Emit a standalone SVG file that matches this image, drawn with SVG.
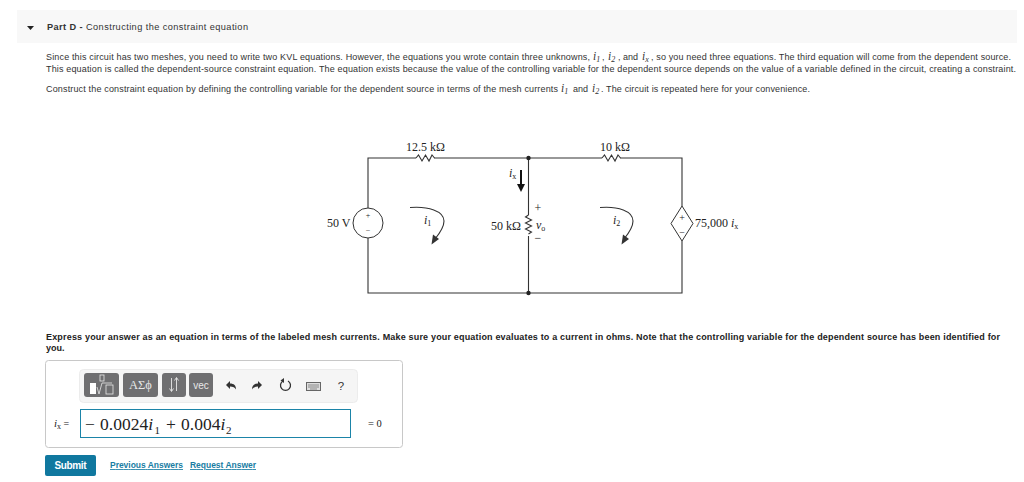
<svg xmlns="http://www.w3.org/2000/svg" width="1024" height="482" viewBox="0 0 1024 482">
<style>
text{font-family:"Liberation Sans",Arial,sans-serif;fill:#333}
.b{font-size:9px}
.bold{font-size:9px;font-weight:700;fill:#222}
.m{font-family:"Liberation Serif","Times New Roman",serif;font-style:italic;font-size:11.500px;fill:#333}
.s{font-family:"Liberation Serif","Times New Roman",serif;font-size:12px;fill:#222}
.si{font-family:"Liberation Serif","Times New Roman",serif;font-style:italic;font-size:12px;fill:#222}
.w{fill:none;stroke:#333;stroke-width:1.100}
.btn{fill:#6f6f71}
.bt{fill:#e8e8e8;font-size:10px}
.dot{fill:#222}
.link{font-size:8.500px;font-weight:700;fill:#1a7da3;text-decoration:underline}
.ans{font-family:"Liberation Serif","Times New Roman",serif;font-size:17.500px;fill:#222}
</style>
<rect width="1024" height="482" fill="#fff"/>
<rect x="17" y="10" width="1000" height="33" fill="#f8f8f8"/>
<path d="M27 26h7l-3.500 4z" fill="#222"/>
<text x="47" y="30" font-size="9.200" fill="#222" textLength="201"><tspan font-weight="700">Part D -</tspan> Constructing the constraint equation</text>
<text class="b" x="46" y="60" textLength="544">Since this circuit has two meshes, you need to write two KVL equations. However, the equations you wrote contain three unknowns,</text>
<text class="m" x="593" y="60">i<tspan font-size="8" dy="1.500">1</tspan></text>
<text class="b" x="602" y="60">,</text>
<text class="m" x="608" y="60">i<tspan font-size="8" dy="1.500">2</tspan></text>
<text class="b" x="618" y="60">, and</text>
<text class="m" x="642" y="60">i<tspan font-size="8" dy="1.500">x</tspan></text>
<text class="b" x="651" y="60" textLength="360">, so you need three equations. The third equation will come from the dependent source.</text>
<text class="b" x="46" y="72" textLength="970">This equation is called the dependent-source constraint equation. The equation exists because the value of the controlling variable for the dependent source depends on the value of a variable defined in the circuit, creating a constraint.</text>
<text class="b" x="46" y="92" textLength="512">Construct the constraint equation by defining the controlling variable for the dependent source in terms of the mesh currents</text>
<text class="m" x="561" y="92">i<tspan font-size="8" dy="1.500">1</tspan></text>
<text class="b" x="573" y="92">and</text>
<text class="m" x="592" y="92">i<tspan font-size="8" dy="1.500">2</tspan></text>
<text class="b" x="601" y="92" textLength="209">. The circuit is repeated here for your convenience.</text>

<g id="connectors">
<path class="w" d="M368 208V158H416M434 158H602M620 158H682V206M682 241V293H368V238M528.500 158V215M528.500 236V293"/>
<path class="w" d="M416 158l2.500-3 3.500 6 3.500-6 3.500 6 3-6 2.500 3"/>
<path class="w" d="M602 158l2.500-3 3.500 6 3.500-6 3.500 6 3-6 2.500 3"/>
<path class="w" d="M528.500 215l-3 2 6 3-6 3 6 3-6 3 6 3-3 2"/>
<path fill="none" stroke="#333" stroke-width="1.100" d="M410 207.500C428 206 444 211 444 221C444 228 439 234 435 239"/>
<path fill="#333" d="M431.500 244.500L433 234.500L439 239z"/>
<path fill="none" stroke="#333" stroke-width="1.100" d="M600 207.500C618 206 633 211 633 221C633 228 628 234 624 239"/>
<path fill="#333" d="M621.500 244.500L623 234.500L629 239z"/>
<path stroke="#111" stroke-width="2" d="M521 170V186"/>
<path fill="#111" d="M517 184h8l-4 8z"/>
</g>
<g id="node-a"><circle class="dot" cx="528.500" cy="158" r="2.200"/></g>
<g id="node-b"><circle class="dot" cx="528.500" cy="293" r="2.200"/></g>
<g id="source-50v">
<circle cx="368" cy="223" r="15" fill="#fff" stroke="#333" stroke-width="1"/>
<text class="s" x="368" y="218" style="font-size:8px" text-anchor="middle">+</text>
<text class="s" x="368" y="233" style="font-size:8px" text-anchor="middle">−</text>
<text class="s" x="327" y="227">50 V</text>
</g>
<g id="source-dep">
<path d="M682 206l11 17.500-11 17.500-11-17.500z" fill="#fff" stroke="#333" stroke-width="1"/>
<text class="s" x="682" y="221" style="font-size:10px" text-anchor="middle">+</text>
<text class="s" x="682" y="236" style="font-size:10px" text-anchor="middle">−</text>
<text class="s" x="695" y="227">75,000 <tspan class="si">i</tspan><tspan style="font-size:8px" dy="1.500">x</tspan></text>
</g>
<g id="labels">
<text class="s" x="406" y="151">12.5 kΩ</text>
<text class="s" x="600" y="151">10 kΩ</text>
<text class="s" x="491" y="230">50 kΩ</text>
<text class="si" x="509" y="177">i<tspan font-style="normal" style="font-size:8px" dy="1.500">x</tspan></text>
<text class="si" x="424" y="224">i<tspan font-style="normal" style="font-size:8px" dy="1.500">1</tspan></text>
<text class="si" x="613" y="224">i<tspan font-style="normal" style="font-size:8px" dy="1.500">2</tspan></text>
<text class="si" x="536" y="229">v<tspan font-style="normal" style="font-size:8px" dy="1.500">o</tspan></text>
<text class="s" x="538" y="212" text-anchor="middle">+</text>
<text class="s" x="538" y="242" text-anchor="middle">−</text>
</g>

<text class="bold" x="46" y="340" textLength="954">Express your answer as an equation in terms of the labeled mesh currents. Make sure your equation evaluates to a current in ohms. Note that the controlling variable for the dependent source has been identified for</text>
<text class="bold" x="46" y="351">you.</text>

<g id="answer-box">
<rect x="45.500" y="360.500" width="357" height="87" rx="3" fill="#fff" stroke="#c8c8c8"/>
<rect x="79.500" y="369.500" width="278" height="33" rx="4" fill="#f5f5f5" stroke="#ececec"/>
<rect class="btn" x="84" y="373" width="35" height="24" rx="3"/>
<rect x="90" y="383" width="6" height="11" fill="#fff"/>
<path d="M97 387l2 7 3-11h10" fill="none" stroke="#e8e8e8" stroke-width=".8"/>
<rect x="100" y="375" width="4" height="6" fill="none" stroke="#e8e8e8" stroke-width=".8"/>
<rect x="106" y="385" width="7" height="9" fill="none" stroke="#e8e8e8" stroke-width=".8"/>
<rect class="btn" x="123" y="373" width="35" height="24" rx="3"/>
<text class="bt" x="140.500" y="389" text-anchor="middle" style="font-family:'Liberation Serif',serif;font-size:12.500px">ΑΣϕ</text>
<rect class="btn" x="162" y="373" width="24" height="24" rx="3"/>
<path d="M171.500 378v13M169.500 388.500l2 3 2-3M176.500 391v-13M174.500 380.500l2-3 2 3" fill="none" stroke="#e8e8e8" stroke-width=".9"/>
<rect class="btn" x="189" y="373" width="24" height="24" rx="3"/>
<text class="bt" x="201" y="389" text-anchor="middle" style="font-size:10px">vec</text>
<path d="M226 385l4-4v2.500c4 0 6 2 6 6c-1-2-3-3-6-3v2.500z" fill="#333"/>
<path d="M262 385l-4-4v2.500c-4 0-6 2-6 6c1-2 3-3 6-3v2.500z" fill="#333"/>
<path d="M283 381a5 5 0 1 0 5 0" fill="none" stroke="#333" stroke-width="1.300"/>
<path d="M284 378v5l-3.500-2.500z" fill="#333"/>
<rect x="306.500" y="382.500" width="14" height="8" fill="#ddd" stroke="#666"/>
<path d="M308 385h11M308 387h11M310 389h7" stroke="#777" stroke-width=".8"/>
<text x="341" y="390" text-anchor="middle" style="font-size:11.500px">?</text>
<text class="si" x="54" y="427" style="font-size:11px">i<tspan font-style="normal" style="font-size:8px" dy="1.500">x</tspan><tspan font-style="normal" style="font-size:10px" dy="-1.500"> =</tspan></text>
<rect x="80.500" y="409.500" width="270" height="28" fill="#fff" stroke="#1b84a8"/>
<text class="ans" x="85" y="430">−</text>
<text class="ans" x="100" y="430">0.0024<tspan font-style="italic">i</tspan></text>
<text class="ans" x="154.500" y="434" style="font-size:11px">1</text>
<text class="ans" x="166" y="430">+</text>
<text class="ans" x="181" y="430">0.004<tspan font-style="italic">i</tspan></text>
<text class="ans" x="226" y="434" style="font-size:11px">2</text>
<text class="s" x="368" y="427" style="font-size:10.500px">= 0</text>
</g>
<g id="submit">
<rect x="45" y="455" width="51" height="21" rx="2" fill="#10789f"/>
<text x="70.500" y="469" text-anchor="middle" font-size="10" font-weight="700" style="fill:#fff" textLength="32">Submit</text>
</g>
<text class="link" x="110" y="468" textLength="73">Previous Answers</text>
<text class="link" x="190" y="468" textLength="66">Request Answer</text>
</svg>
